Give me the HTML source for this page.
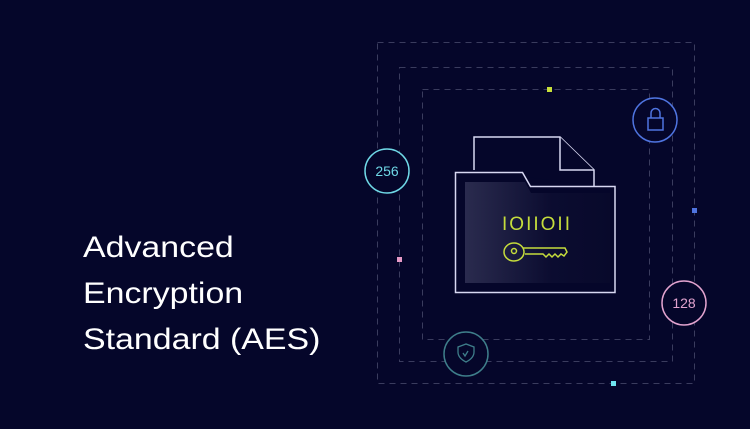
<!DOCTYPE html>
<html><head><style>
html,body{margin:0;padding:0;}
body{width:750px;height:429px;background:#05062a;overflow:hidden;position:relative;font-family:"Liberation Sans",sans-serif;}
.t{position:absolute;left:83px;color:#fff;font-size:30px;line-height:30px;white-space:nowrap;transform:scaleX(1.13);transform-origin:0 0;}
</style></head><body>
<div class="t" style="top:233px">Advanced</div>
<div class="t" style="top:279px">Encryption</div>
<div class="t" style="top:325px">Standard (AES)</div>
<svg width="750" height="429" style="position:absolute;left:0;top:0">
<defs>
<linearGradient id="g" x1="0" x2="1" y1="0" y2="0">
<stop offset="0" stop-color="#2a2b4e"/><stop offset="0.6" stop-color="#0b0c30"/><stop offset="1" stop-color="#08092b"/>
</linearGradient>
</defs>
<g fill="none" stroke="#3a3c5e" stroke-width="1" stroke-dasharray="6 5">
<rect x="377.5" y="42.5" width="317" height="341"/>
<rect x="399.5" y="67.5" width="273" height="294"/>
<rect x="422.5" y="89.5" width="227" height="250"/>
</g>
<g fill="#05062a" stroke-width="1.5">
<circle cx="387" cy="171" r="22" stroke="#6fd8e6"/>
<circle cx="655" cy="120" r="22" stroke="#4f74e0"/>
<circle cx="684" cy="303" r="22" stroke="#e2a3cf"/>
<circle cx="466" cy="354" r="22" stroke="#3e7e8a"/>
</g>
<text x="387" y="176" fill="#6fd8e6" font-size="14" text-anchor="middle" font-family="Liberation Sans">256</text>
<text x="684" y="308" fill="#e2a3cf" font-size="14" text-anchor="middle" font-family="Liberation Sans">128</text>
<g fill="none" stroke="#4f74e0" stroke-width="1.5">
<rect x="648" y="118" width="15" height="12"/>
<path d="M651 118v-5a4.5 4.5 0 0 1 9 0v5"/>
</g>
<g fill="none" stroke="#3e7e8a" stroke-width="1.3">
<path d="M466 344l-8 3v5c0 5 4 8 8 10c4-2 8-5 8-10v-5z"/>
<path d="M463 353l2 3l3-5"/>
</g>
<rect x="547" y="87" width="5" height="5" fill="#c8e03a"/>
<rect x="692" y="208" width="5" height="5" fill="#4f74e0"/>
<rect x="397" y="257" width="5" height="5" fill="#e79ac6"/>
<rect x="611" y="381" width="5" height="5" fill="#6fe4f0"/>
<g stroke="#d8d8f2" stroke-width="1.5" fill="#05062a">
<path d="M474 170V137h86l34 33v16"/>
<path d="M560 137v33h34"/>
<path d="M455.5 172.5h67l8 14h84.5v106h-159.5z"/>
</g>
<path d="M465 182h60l6 11h79v90h-145z" fill="url(#g)"/>
<text x="537" y="230" fill="#c5dc3c" font-size="19" text-anchor="middle" font-family="Liberation Sans" letter-spacing="2">IOIIOII</text>
<g fill="none" stroke="#c5dc3c" stroke-width="1.5">
<ellipse cx="514" cy="252" rx="10" ry="9"/>
<circle cx="514" cy="251" r="2.5"/>
<path d="M523 248h42l2 4l-3 4l-3-2l-3 3l-3-3l-3 3l-3-3l-3 3l-3-3h-18"/>
</g>
</svg>
</body></html>
